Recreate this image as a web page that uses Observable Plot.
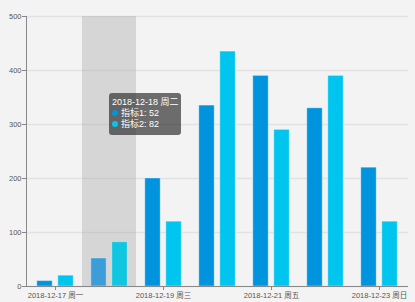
<!DOCTYPE html>
<html><head><meta charset="utf-8">
<script src="https://cdn.jsdelivr.net/npm/d3@7"></script>
<script src="https://cdn.jsdelivr.net/npm/@observablehq/plot@0.6"></script>
<style>
html,body{margin:0;padding:0;background:#f3f3f3;}
#chart{position:relative;width:415px;height:302px;overflow:hidden;}
#chart svg{position:absolute;left:0;top:0;}
.tip{position:absolute;background:rgba(50,50,50,0.7);border-radius:3px;color:#fff;font-family:"Liberation Sans","Noto Sans CJK SC",sans-serif;font-size:9px;padding:4px 2px 5px 3px;line-height:11px;white-space:nowrap;}
.tip .dot{display:inline-block;width:6px;height:6px;border-radius:50%;margin-right:3px;vertical-align:0px;}
</style></head><body><div id="chart"></div>
<script>
const dates = ["2018-12-17 周一","2018-12-18 周二","2018-12-19 周三","2018-12-20 周四","2018-12-21 周五","2018-12-22 周六","2018-12-23 周日"];
const seriesNames = ["指标1","指标2"];
const values1 = [10, 52, 200, 335, 390, 330, 220];
const values2 = [20, 82, 120, 435, 290, 390, 120];
const xTickLabels = ["2018-12-17 周一","2018-12-19 周三","2018-12-21 周五","2018-12-23 周日"];
const yTicks = [0, 100, 200, 300, 400, 500];
const hovered = "2018-12-18 周二";
const tipAnchorValue = 357;

const colors = {"指标1":"#0094df","指标2":"#00c5ee"};
const hiColors = {"指标1":"#3d9dd8","指标2":"#10c6e0"};

const rows1 = dates.map((d,i)=>({date:d, series:seriesNames[0], value:values1[i]}));
const rows2 = dates.map((d,i)=>({date:d, series:seriesNames[1], value:values2[i]}));
const fillOf = d => d.date === hovered ? hiColors[d.series] : colors[d.series];
const font = '"Liberation Sans","Noto Sans CJK SC",sans-serif';
const inset = 19.3;

const plot = Plot.plot({
  width: 415, height: 302,
  marginLeft: 26, marginRight: 7, marginTop: 16, marginBottom: 16,
  style: {background: "transparent", fontFamily: font, fontSize: "7.5px", color: "#555"},
  x: {domain: dates, padding: 0, axis: null},
  y: {domain: [0, 500], axis: null},
  color: {type: "identity"},
  marks: [
    Plot.gridY(yTicks, {stroke: "#e2e2e2", strokeOpacity: 1, strokeWidth: 1.5}),
    Plot.barY([hovered], {x: d => d, y1: 0, y2: 500, fill: "rgb(150,150,150)", fillOpacity: 0.3}),
    Plot.barY(rows1, {x: "date", y: "value", fill: fillOf, dx: -10.5, insetLeft: inset, insetRight: inset, stroke: "#fff", strokeOpacity: 0.35, strokeWidth: 1}),
    Plot.barY(rows2, {x: "date", y: "value", fill: fillOf, dx: 10.5, insetLeft: inset, insetRight: inset, stroke: "#fff", strokeOpacity: 0.35, strokeWidth: 1}),
    Plot.ruleY([0], {stroke: "#888", strokeWidth: 1}),
    Plot.frame({anchor: "left", stroke: "#888"}),
    Plot.axisY(yTicks, {tickSize: 4, tickPadding: 1, stroke: "#888", fill: "#555", label: null}),
    Plot.axisX(xTickLabels, {tickSize: 4, tickPadding: 2, stroke: "#888", fill: "#555", label: null})
  ]
});
const chart = document.getElementById("chart");
chart.appendChild(plot);

const xs = plot.scale("x"), ys = plot.scale("y");
const tip = document.createElement("div");
tip.className = "tip";
tip.style.left = (xs.apply(hovered) + xs.bandwidth / 2) + "px";
tip.style.top = ys.apply(tipAnchorValue) + "px";
const idx = dates.indexOf(hovered);
tip.innerHTML = `<div>${hovered}</div>` +
  `<div><span class="dot" style="background:${colors[seriesNames[0]]}"></span>${seriesNames[0]}: ${values1[idx]}</div>` +
  `<div><span class="dot" style="background:${colors[seriesNames[1]]}"></span>${seriesNames[1]}: ${values2[idx]}</div>`;
chart.appendChild(tip);
</script></body></html>
